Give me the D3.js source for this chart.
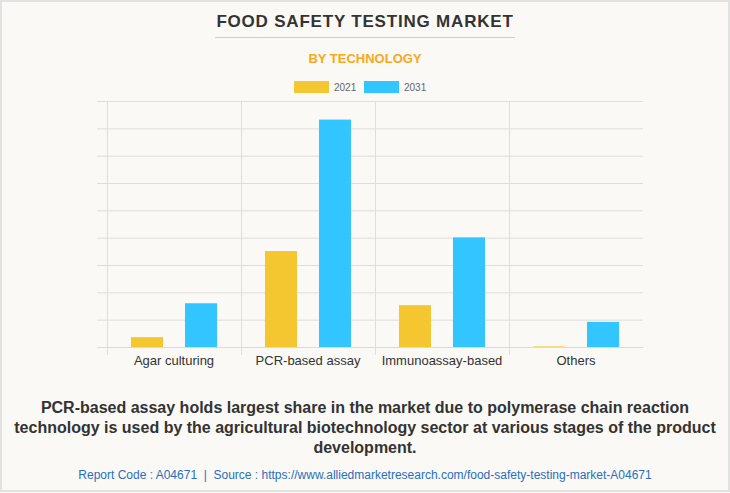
<!DOCTYPE html>
<html>
<head>
<meta charset="utf-8">
<script src="https://cdn.jsdelivr.net/npm/d3@7"></script>
<style>
  html, body { margin: 0; padding: 0; background: #faf9f5; }
  svg { display: block; font-family: Arial, "Liberation Sans", sans-serif; }
</style>
</head>
<body>
<div id="chart"></div>
<script>
// chart data
const categories = ["Agar culturing", "PCR-based assay", "Immunoassay-based", "Others"];
const years = ["2021", "2031"];
const values2021 = [0.36, 3.51, 1.53, 0.02];
const values2031 = [1.6, 8.32, 4.01, 0.92];
const gridTicks = [0, 1, 2, 3, 4, 5, 6, 7, 8, 9];
const colors = ["#f4c62f", "#33c5ff"];

const width = 730;
const height = 493;
const margin = { top: 101, right: 87, bottom: 146, left: 107 };

const svg = d3.select("#chart").append("svg")
    .attr("width", width)
    .attr("height", height);

// background + border
svg.append("rect")
    .attr("x", 1).attr("y", 1)
    .attr("width", width - 2).attr("height", height - 3)
    .attr("fill", "#faf9f5")
    .attr("stroke", "#e2e2e2")
    .attr("stroke-width", 2);

// titles
svg.append("text")
    .attr("x", 365).attr("y", 27)
    .attr("text-anchor", "middle")
    .attr("font-size", 17)
    .attr("font-weight", "bold")
    .attr("letter-spacing", 0.8)
    .attr("fill", "#333")
    .text("FOOD SAFETY TESTING MARKET");

svg.append("line")
    .attr("x1", 215).attr("x2", 515)
    .attr("y1", 37.5).attr("y2", 37.5)
    .attr("stroke", "#cfcfcf");

svg.append("text")
    .attr("x", 365).attr("y", 63)
    .attr("text-anchor", "middle")
    .attr("font-size", 13)
    .attr("font-weight", "bold")
    .attr("fill", "#fba81a")
    .text("BY TECHNOLOGY");

// legend
const legend = svg.append("g").selectAll("g")
    .data(years)
    .enter().append("g")
    .attr("transform", (d, i) => "translate(" + (294 + i * 70) + ",81)");

legend.append("rect")
    .attr("width", 35).attr("height", 12)
    .attr("fill", (d, i) => colors[i]);

legend.append("text")
    .attr("x", 40).attr("y", 10)
    .attr("font-size", 10)
    .attr("fill", "#666")
    .text(d => d);

// scales
const innerW = width - margin.left - margin.right;
const innerH = height - margin.top - margin.bottom;

const x = d3.scaleBand()
    .domain(categories)
    .range([margin.left, margin.left + innerW]);

const xInner = d3.scaleBand()
    .domain(years)
    .range([0, x.bandwidth()])
    .paddingInner(0.407)
    .paddingOuter(0.444);

const y = d3.scaleLinear()
    .domain([0, 9])
    .range([margin.top + innerH, margin.top]);

// horizontal grid
svg.append("g")
    .attr("transform", "translate(" + margin.left + ",0)")
    .call(d3.axisLeft(y).tickValues(gridTicks).tickSize(-innerW).tickSizeOuter(0).tickFormat(""))
    .call(g => g.select(".domain").remove())
    .call(g => g.selectAll(".tick line")
        .attr("x1", -10)
        .attr("stroke", "#e0ded8"));

// vertical category dividers
const dividers = categories.map(c => x(c));
svg.append("g").selectAll("line")
    .data(dividers)
    .enter().append("line")
    .attr("x1", d => d + 0.5).attr("x2", d => d + 0.5)
    .attr("y1", margin.top).attr("y2", margin.top + innerH + 8)
    .attr("stroke", "#e0ded8");

// bars
const rows = categories.map((c, i) => ({ cat: c, vals: [values2021[i], values2031[i]] }));

const groups = svg.append("g").selectAll("g")
    .data(rows)
    .enter().append("g")
    .attr("transform", d => "translate(" + x(d.cat) + ",0)");

groups.selectAll("rect")
    .data(d => d.vals.map((v, i) => ({ year: years[i], v: v, i: i })))
    .enter().append("rect")
    .attr("x", d => xInner(d.year))
    .attr("width", xInner.bandwidth())
    .attr("y", d => y(d.v))
    .attr("height", d => y(0) - y(d.v))
    .attr("fill", d => colors[d.i]);

// x axis labels
svg.append("g")
    .attr("transform", "translate(0," + (margin.top + innerH) + ")")
    .call(d3.axisBottom(x).tickSize(0).tickPadding(9))
    .call(g => g.select(".domain").attr("stroke", "#dcdad5"))
    .call(g => g.selectAll("text")
        .attr("font-size", 13)
        .attr("font-family", "Arial, 'Liberation Sans', sans-serif")
        .attr("fill", "#333"));

// caption
const caption = [
    "PCR-based assay holds largest share in the market due to polymerase chain reaction",
    "technology is used by the agricultural biotechnology sector at various stages of the product",
    "development."
];
svg.append("g").selectAll("text")
    .data(caption)
    .enter().append("text")
    .attr("x", 365)
    .attr("y", (d, i) => 413 + i * 20)
    .attr("text-anchor", "middle")
    .attr("font-size", 16)
    .attr("font-weight", "bold")
    .attr("fill", "#333")
    .text(d => d);

svg.append("text")
    .attr("x", 365).attr("y", 479)
    .attr("text-anchor", "middle")
    .attr("font-size", 12)
    .attr("fill", "#2a6ebb")
    .attr("xml:space", "preserve")
    .text("Report Code : A04671  |  Source : https://www.alliedmarketresearch.com/food-safety-testing-market-A04671");
</script>
</body>
</html>
